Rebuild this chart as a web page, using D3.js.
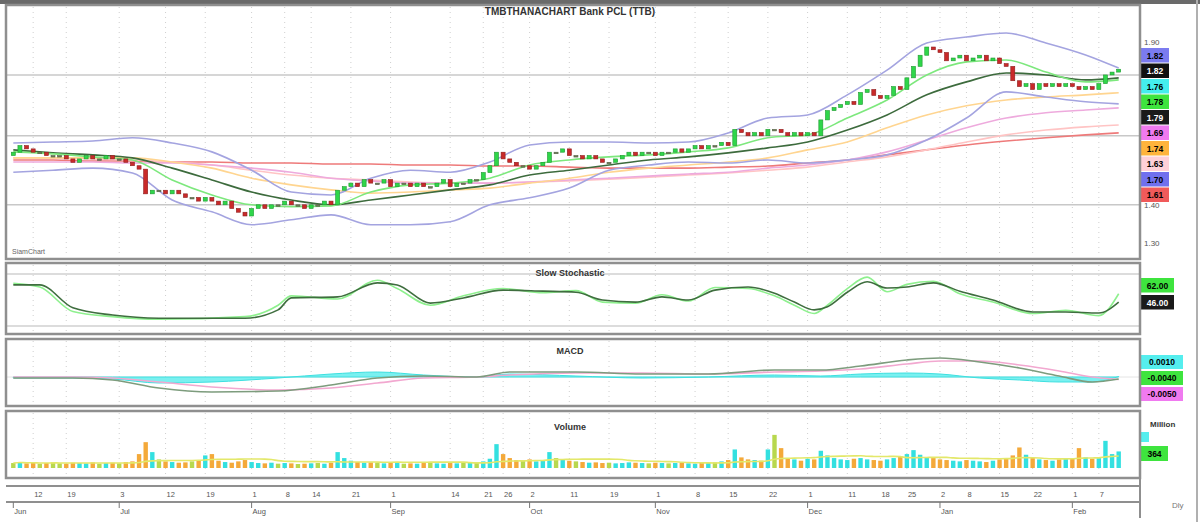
<!DOCTYPE html>
<html>
<head>
<meta charset="utf-8">
<script src="https://cdn.jsdelivr.net/npm/d3@7"></script>
<style>
  body { margin: 0; background: #fff; }
  svg { display: block; font-family: "Liberation Sans", Arial, sans-serif; }
</style>
</head>
<body>
<script>
/*---------- données ----------*/

// cours journaliers (ouverture / clôture)
const closes = [1.55,1.57,1.56,1.55,1.55,1.54,1.54,1.54,1.53,1.52,
  1.53,1.54,1.53,1.53,1.54,1.53,1.53,1.52,1.51,1.50,
  1.43,1.44,1.44,1.43,1.44,1.43,1.42,1.42,1.41,1.42,
  1.41,1.40,1.41,1.39,1.38,1.37,1.39,1.40,1.39,1.40,
  1.40,1.41,1.40,1.40,1.39,1.40,1.40,1.41,1.40,1.44,
  1.45,1.46,1.45,1.47,1.46,1.46,1.47,1.45,1.46,1.46,
  1.45,1.46,1.45,1.45,1.46,1.47,1.45,1.46,1.46,1.47,
  1.47,1.49,1.51,1.55,1.53,1.52,1.51,1.51,1.50,1.51,
  1.52,1.55,1.55,1.56,1.54,1.54,1.53,1.54,1.53,1.52,
  1.52,1.53,1.54,1.55,1.54,1.55,1.55,1.54,1.55,1.55,
  1.56,1.55,1.56,1.57,1.56,1.57,1.57,1.58,1.57,1.62,
  1.61,1.60,1.61,1.60,1.62,1.62,1.61,1.60,1.61,1.60,
  1.61,1.60,1.65,1.68,1.69,1.70,1.71,1.70,1.74,1.75,
  1.73,1.72,1.73,1.76,1.75,1.79,1.83,1.87,1.90,1.89,
  1.88,1.85,1.86,1.87,1.85,1.86,1.87,1.85,1.86,1.84,
  1.83,1.78,1.76,1.77,1.75,1.77,1.76,1.77,1.76,1.77,
  1.76,1.75,1.76,1.75,1.77,1.80,1.81,1.82];
const opens = [1.54,1.55,1.57,1.56,1.55,1.55,1.54,1.54,1.54,1.53,
  1.52,1.53,1.54,1.53,1.53,1.54,1.53,1.53,1.52,1.51,
  1.50,1.43,1.44,1.44,1.43,1.44,1.43,1.42,1.42,1.41,
  1.42,1.41,1.40,1.41,1.39,1.38,1.37,1.39,1.40,1.39,
  1.40,1.40,1.41,1.40,1.40,1.39,1.40,1.40,1.41,1.40,
  1.44,1.45,1.46,1.45,1.47,1.46,1.46,1.47,1.45,1.46,
  1.46,1.45,1.46,1.45,1.45,1.46,1.47,1.45,1.46,1.46,
  1.47,1.47,1.49,1.51,1.55,1.53,1.52,1.51,1.51,1.50,
  1.51,1.52,1.55,1.55,1.56,1.54,1.54,1.53,1.54,1.53,
  1.52,1.52,1.53,1.54,1.55,1.54,1.55,1.55,1.54,1.55,
  1.55,1.56,1.55,1.56,1.57,1.56,1.57,1.57,1.58,1.57,
  1.62,1.61,1.60,1.61,1.60,1.62,1.62,1.61,1.60,1.61,
  1.60,1.61,1.60,1.65,1.68,1.69,1.70,1.71,1.70,1.74,
  1.75,1.73,1.72,1.73,1.76,1.75,1.79,1.83,1.87,1.90,
  1.89,1.88,1.85,1.86,1.87,1.85,1.86,1.87,1.85,1.86,
  1.84,1.83,1.78,1.76,1.77,1.75,1.77,1.76,1.77,1.76,
  1.77,1.76,1.75,1.76,1.75,1.77,1.80,1.81];

// volume (millions)
const volumes = [150,180,140,160,130,150,170,140,130,160,
  150,140,170,130,150,160,140,180,200,420,
  780,480,260,200,180,160,170,200,240,380,
  420,220,180,160,200,240,180,150,140,160,
  130,150,140,120,130,140,150,130,160,480,
  300,220,180,160,170,150,140,160,150,130,
  140,130,150,160,140,130,150,140,170,180,
  160,200,280,720,420,300,240,220,260,200,
  220,480,300,260,220,200,180,160,170,150,
  160,140,150,170,160,150,140,160,150,140,
  150,160,140,130,160,150,170,200,240,560,
  320,260,240,220,560,1000,600,300,260,220,
  280,260,520,380,300,260,240,280,300,260,
  240,220,260,300,360,420,540,400,320,300,
  260,240,220,200,240,220,200,180,220,260,
  300,380,620,400,300,260,240,220,260,280,
  300,600,320,280,300,820,420,500];

// bandes et moyennes mobiles, relevées aux jours de lineIdx
const lineIdx = [0,6,12,18,24,30,36,42,48,54,60,66,72,78,84,90,96,102,108,114,120,126,132,138,144,150,156,162,167];
const bbUpper = [1.578,1.581,1.584,1.594,1.578,1.551,1.497,1.435,1.427,1.474,1.497,1.491,1.521,1.572,1.581,1.581,1.578,1.581,1.609,1.656,1.666,1.732,1.817,1.915,1.937,1.952,1.915,1.871,1.824];
const bbLower = [1.491,1.497,1.503,1.489,1.413,1.381,1.347,1.360,1.373,1.347,1.347,1.355,1.400,1.419,1.446,1.497,1.512,1.521,1.518,1.527,1.518,1.527,1.542,1.587,1.656,1.742,1.725,1.709,1.702];
const maGreen = [1.551,1.545,1.536,1.527,1.469,1.427,1.400,1.395,1.397,1.435,1.455,1.460,1.474,1.512,1.527,1.536,1.542,1.551,1.563,1.594,1.603,1.656,1.715,1.800,1.846,1.853,1.810,1.776,1.783];
const maDark = [1.557,1.548,1.542,1.533,1.503,1.469,1.435,1.413,1.400,1.413,1.427,1.441,1.455,1.483,1.497,1.512,1.527,1.536,1.548,1.563,1.581,1.618,1.666,1.732,1.776,1.807,1.800,1.783,1.790];
const maOrange = [1.533,1.533,1.533,1.533,1.521,1.503,1.474,1.455,1.441,1.432,1.435,1.441,1.446,1.460,1.474,1.491,1.503,1.512,1.521,1.533,1.557,1.581,1.625,1.666,1.696,1.715,1.725,1.732,1.739];
const maPink = [1.521,1.521,1.521,1.518,1.518,1.512,1.503,1.491,1.474,1.466,1.460,1.460,1.460,1.463,1.469,1.474,1.480,1.486,1.491,1.503,1.512,1.527,1.551,1.587,1.625,1.656,1.673,1.682,1.689];
const maLightPink = [1.533,1.533,1.530,1.527,1.521,1.512,1.497,1.483,1.474,1.469,1.463,1.460,1.460,1.463,1.466,1.471,1.477,1.483,1.489,1.497,1.506,1.521,1.536,1.557,1.581,1.603,1.618,1.628,1.634];
const maRed = [1.527,1.527,1.524,1.524,1.521,1.521,1.518,1.518,1.515,1.515,1.512,1.512,1.509,1.509,1.506,1.503,1.503,1.503,1.506,1.509,1.518,1.527,1.542,1.557,1.572,1.584,1.594,1.603,1.609];

// stochastique lente
const stochIdx = [0,4,9,15,22,35,40,42,49,55,58,63,68,74,80,85,89,94,98,102,106,111,115,118,121,123,126,129,132,135,139,143,148,154,159,164,167];
const stochK = [82,75,28,18,13,18,40,58,52,88,72,40,58,72,64,68,46,44,60,48,74,72,58,40,24,40,72,94,66,80,86,62,46,24,30,20,62];
const stochD = [79,79,35,21,15,15,31,54,56,83,79,44,54,69,67,65,50,46,56,50,69,75,63,46,31,37,65,85,73,75,83,67,50,27,27,25,46];

// MACD
const macdIdx = [0,9,15,22,30,40,48,55,62,70,75,85,95,105,115,122,128,135,140,146,152,158,163,167];
const macdLine = [-0.002,-0.002,-0.006,-0.022,-0.030,-0.028,-0.016,-0.002,0.002,0.000,0.010,0.010,0.006,0.006,0.014,0.014,0.022,0.034,0.038,0.030,0.018,0.002,-0.010,-0.004];
const signalLine = [0.000,0.000,-0.002,-0.010,-0.020,-0.026,-0.022,-0.012,-0.002,0.000,0.004,0.008,0.008,0.006,0.010,0.012,0.016,0.026,0.032,0.032,0.024,0.012,0.000,-0.005];

// axe des dates
const dayTickIdx = [3,8,16,23,29,36,41,45,51,57,66,71,74,78,84,90,97,103,108,114,120,126,131,135,140,144,149,154,160,164];
const dayTickLabels = ["12","19","3","12","19","1","8","14","21","1","14","21","26","2","11","19","1","8","15","22","1","11","18","25","2","8","15","22","1","7"];
const monthIdx = [0,16,36,57,78,97,120,140,160];
const monthLabels = ["Jun","Jul","Aug","Sep","Oct","Nov","Dec","Jan","Feb"];
const priceTicks = [1.3,1.4,1.9];

/*---------- mise en page ----------*/
var width = 1200, height = 522;
var left = 6, right = 1140;
var pMain = { top: 5, bottom: 259 };
var pStoch = { top: 263, bottom: 334 };
var pMacd = { top: 339, bottom: 406 };
var pVol = { top: 411, bottom: 478 };

var svg = d3.select("body").append("svg")
  .attr("width", width)
  .attr("height", height);

svg.append("rect").attr("width", width).attr("height", height).attr("fill", "#fff");
svg.append("rect").attr("x", 0).attr("y", 0).attr("width", width).attr("height", 4).attr("fill", "#6a6a6a");

var xscale = d3.scaleLinear().domain([-0.5, closes.length - 0.5]).range([10, 1122]);
var yscale = d3.scaleLog().domain([1.263, 2.057]).range([258, 6]);
var sscale = d3.scaleLinear().domain([0, 100]).range([326, 274]);
var mscale = d3.scaleLinear().domain([-0.056, 0.06]).range([405, 347]);
var vscale = d3.scaleLinear().domain([0, 1600]).range([468, 415]);

// grilles verticales
[pMain, pStoch, pMacd, pVol].forEach(function (p) {
  svg.append("g").selectAll("line")
    .data(dayTickIdx)
    .enter().append("line")
    .attr("x1", d => xscale(d)).attr("x2", d => xscale(d))
    .attr("y1", p.top + 2).attr("y2", p.bottom - 2)
    .attr("stroke", "#cfcfcf")
    .attr("stroke-dasharray", "1,4");
});

// grilles horizontales du graphe principal
svg.append("g").selectAll("line")
  .data([1.4, 1.6, 1.8])
  .enter().append("line")
  .attr("x1", left).attr("x2", right)
  .attr("y1", d => yscale(d)).attr("y2", d => yscale(d))
  .attr("stroke", "#c8c8c8").attr("stroke-width", 1.5);

svg.append("g").selectAll("line")
  .data([0, 100])
  .enter().append("line")
  .attr("x1", left).attr("x2", right)
  .attr("y1", d => sscale(d)).attr("y2", d => sscale(d))
  .attr("stroke", "#dcdcdc").attr("stroke-width", 2);

svg.append("line")
  .attr("x1", left).attr("x2", right)
  .attr("y1", mscale(0)).attr("y2", mscale(0))
  .attr("stroke", "#e4e4e4");

function pts(idx, vals) {
  return idx.map((i, k) => ({ i: i, v: vals[k] }));
}

/*---------- graphe principal ----------*/
var priceLine = d3.line()
  .x(d => xscale(d.i))
  .y(d => yscale(d.v))
  .curve(d3.curveMonotoneX);

var mainSeries = [
  { vals: maRed, color: "#ee7a7a" },
  { vals: maLightPink, color: "#ffc4c4" },
  { vals: maPink, color: "#eeaadd" },
  { vals: maOrange, color: "#ffd590" },
  { vals: maDark, color: "#3d6b3d" },
  { vals: maGreen, color: "#7de87d" },
  { vals: bbUpper, color: "#a4a4e0" },
  { vals: bbLower, color: "#a4a4e0" }
];
mainSeries.forEach(function (s) {
  svg.append("path")
    .datum(pts(lineIdx, s.vals))
    .attr("d", priceLine)
    .attr("fill", "none")
    .attr("stroke", s.color)
    .attr("stroke-width", 1.6);
});

// chandeliers
svg.append("g").selectAll("rect")
  .data(closes)
  .enter().append("rect")
  .attr("x", (d, i) => xscale(i) - 2)
  .attr("width", 4)
  .attr("y", (d, i) => yscale(Math.max(d, opens[i])))
  .attr("height", (d, i) => Math.max(1.5, Math.abs(yscale(d) - yscale(opens[i]))))
  .attr("fill", (d, i) => d > opens[i] ? "#2fd64a" : (d < opens[i] ? "#c92a2a" : "#6d7a55"))
  .attr("stroke", (d, i) => d > opens[i] ? "#1e9a30" : (d < opens[i] ? "#8e1c1c" : "#556045"))
  .attr("stroke-width", 0.6);

svg.append("text")
  .attr("x", 570).attr("y", 15)
  .attr("text-anchor", "middle")
  .attr("font-size", 10).attr("font-weight", "bold").attr("fill", "#333")
  .text("TMBTHANACHART Bank PCL (TTB)");

svg.append("text")
  .attr("x", 12).attr("y", 254)
  .attr("font-size", 7).attr("fill", "#666")
  .text("SiamChart");

// axe des prix (les autres graduations sont cachées par les étiquettes)
svg.append("g").selectAll("text")
  .data(priceTicks)
  .enter().append("text")
  .attr("x", 1144).attr("y", d => d > 1.85 ? yscale(d) - 2 : yscale(d) + 3)
  .attr("font-size", 8).attr("fill", "#555")
  .text(d => d.toFixed(2));

// étiquettes des dernières valeurs
var last = closes.length - 1;
var bbMid = (bbUpper[bbUpper.length - 1] + bbLower[bbLower.length - 1]) / 2;
var tags = [
  { v: bbUpper[bbUpper.length - 1], bg: "#7b7bf0", fg: "#000" },
  { v: closes[last], bg: "#111", fg: "#fff" },
  { v: bbMid, bg: "#44eeee", fg: "#000" },
  { v: maGreen[maGreen.length - 1], bg: "#3ee43e", fg: "#000" },
  { v: maDark[maDark.length - 1], bg: "#1a1a1a", fg: "#fff" },
  { v: maPink[maPink.length - 1], bg: "#f07af0", fg: "#000" },
  { v: maOrange[maOrange.length - 1], bg: "#ffb43c", fg: "#000" },
  { v: maLightPink[maLightPink.length - 1], bg: "#ffd0d8", fg: "#000" },
  { v: bbLower[bbLower.length - 1], bg: "#7070ee", fg: "#000" },
  { v: maRed[maRed.length - 1], bg: "#f05a5a", fg: "#000" }
];
var tg = svg.append("g").selectAll("g").data(tags).enter().append("g")
  .attr("transform", (d, k) => "translate(1141," + (48 + k * 15.5) + ")");
tg.append("rect").attr("width", 28).attr("height", 14.5).attr("fill", d => d.bg);
tg.append("text").attr("x", 14).attr("y", 10.5).attr("text-anchor", "middle")
  .attr("font-size", 8.5).attr("font-weight", "bold").attr("fill", d => d.fg)
  .text(d => d.v.toFixed(2));

/*---------- stochastique ----------*/
var stochLine = d3.line().x(d => xscale(d.i)).y(d => sscale(d.v)).curve(d3.curveMonotoneX);
svg.append("path").datum(pts(stochIdx, stochK)).attr("d", stochLine)
  .attr("fill", "none").attr("stroke", "#8ef08e").attr("stroke-width", 1.6);
svg.append("path").datum(pts(stochIdx, stochD)).attr("d", stochLine)
  .attr("fill", "none").attr("stroke", "#3f6e3f").attr("stroke-width", 1.6);
svg.append("text").attr("x", 570).attr("y", 276).attr("text-anchor", "middle")
  .attr("font-size", 9).attr("font-weight", "bold").attr("fill", "#333").text("Slow Stochastic");

var sTags = [
  { v: stochK[stochK.length - 1], bg: "#3ee43e", fg: "#000", y: 278 },
  { v: stochD[stochD.length - 1], bg: "#1a1a1a", fg: "#fff", y: 295 }
];
var sg = svg.append("g").selectAll("g").data(sTags).enter().append("g")
  .attr("transform", d => "translate(1141," + d.y + ")");
sg.append("rect").attr("width", 33).attr("height", 14.5).attr("fill", d => d.bg);
sg.append("text").attr("x", 16.5).attr("y", 10.5).attr("text-anchor", "middle")
  .attr("font-size", 8.5).attr("font-weight", "bold").attr("fill", d => d.fg)
  .text(d => d.v.toFixed(2));

/*---------- MACD ----------*/
var hist = macdIdx.map((i, k) => ({ i: i, v: macdLine[k] - signalLine[k] }));
svg.append("path").datum(hist)
  .attr("d", d3.area().x(d => xscale(d.i)).y0(mscale(0)).y1(d => mscale(d.v)).curve(d3.curveMonotoneX))
  .attr("fill", "#7af0f0").attr("stroke", "#3ee0e0").attr("stroke-width", 1);
var macdGen = d3.line().x(d => xscale(d.i)).y(d => mscale(d.v)).curve(d3.curveMonotoneX);
svg.append("path").datum(pts(macdIdx, signalLine)).attr("d", macdGen)
  .attr("fill", "none").attr("stroke", "#f2a8d0").attr("stroke-width", 1.6);
svg.append("path").datum(pts(macdIdx, macdLine)).attr("d", macdGen)
  .attr("fill", "none").attr("stroke", "#7d9c7d").attr("stroke-width", 1.6);
svg.append("text").attr("x", 570).attr("y", 354).attr("text-anchor", "middle")
  .attr("font-size", 9).attr("font-weight", "bold").attr("fill", "#333").text("MACD");

var mTags = [
  { v: hist[hist.length - 1].v, bg: "#55eeee", y: 355 },
  { v: macdLine[macdLine.length - 1], bg: "#3ee43e", y: 371 },
  { v: signalLine[signalLine.length - 1], bg: "#f07af0", y: 387 }
];
var mg = svg.append("g").selectAll("g").data(mTags).enter().append("g")
  .attr("transform", d => "translate(1141," + d.y + ")");
mg.append("rect").attr("width", 42).attr("height", 14).attr("fill", d => d.bg);
mg.append("text").attr("x", 21).attr("y", 10).attr("text-anchor", "middle")
  .attr("font-size", 8.5).attr("font-weight", "bold").attr("fill", "#000")
  .text(d => d.v.toFixed(4));

/*---------- volume ----------*/
svg.append("g").selectAll("rect")
  .data(volumes)
  .enter().append("rect")
  .attr("x", (d, i) => xscale(i) - 2.2)
  .attr("width", 4.4)
  .attr("y", d => vscale(d))
  .attr("height", d => vscale(0) - vscale(d))
  .attr("fill", (d, i) => {
    if (i == 0 || closes[i] == closes[i - 1]) return "#b8d84e";
    return closes[i] > closes[i - 1] ? "#33e0e0" : "#f4a93a";
  });

var volMA = volumes.map((d, i) => ({ i: i, v: d3.mean(volumes.slice(Math.max(0, i - 19), i + 1)) }));
svg.append("path").datum(volMA)
  .attr("d", d3.line().x(d => xscale(d.i)).y(d => vscale(d.v)).curve(d3.curveMonotoneX))
  .attr("fill", "none").attr("stroke", "#e3e86a").attr("stroke-width", 1.6);
svg.append("text").attr("x", 570).attr("y", 430).attr("text-anchor", "middle")
  .attr("font-size", 9).attr("font-weight", "bold").attr("fill", "#333").text("Volume");
svg.append("text").attr("x", 1150).attr("y", 427)
  .attr("font-size", 8).attr("font-weight", "bold").attr("fill", "#333").text("Million");
svg.append("rect").attr("x", 1141).attr("y", 432).attr("width", 8).attr("height", 10).attr("fill", "#55eeee");
svg.append("rect").attr("x", 1141).attr("y", 446).attr("width", 27).attr("height", 15).attr("fill", "#3ee43e");
svg.append("text").attr("x", 1154.5).attr("y", 457).attr("text-anchor", "middle")
  .attr("font-size", 8.5).attr("font-weight", "bold").attr("fill", "#000")
  .text(Math.round(volMA[volMA.length - 1].v));

/*---------- cadres ----------*/
[pMain, pStoch, pMacd, pVol].forEach(function (p) {
  svg.append("rect")
    .attr("x", left).attr("y", p.top)
    .attr("width", right - left).attr("height", p.bottom - p.top)
    .attr("fill", "none").attr("stroke", "#8f8f8f").attr("stroke-width", 2.5);
});
svg.append("line").attr("x1", 1197).attr("x2", 1197).attr("y1", 0).attr("y2", height)
  .attr("stroke", "#b0b0b0").attr("stroke-width", 2);

/*---------- axe des dates ----------*/
svg.append("line").attr("x1", left).attr("x2", right).attr("y1", 486).attr("y2", 486)
  .attr("stroke", "#8f8f8f").attr("stroke-width", 2);
svg.append("line").attr("x1", left).attr("x2", right).attr("y1", 502).attr("y2", 502)
  .attr("stroke", "#8f8f8f").attr("stroke-width", 2);
svg.append("line").attr("x1", right).attr("x2", right).attr("y1", 478).attr("y2", 518)
  .attr("stroke", "#8f8f8f").attr("stroke-width", 2);

svg.append("g").selectAll("text")
  .data(dayTickIdx)
  .enter().append("text")
  .attr("x", d => xscale(d) + 1)
  .attr("y", 497)
  .attr("font-size", 7.5).attr("fill", "#555")
  .text((d, k) => dayTickLabels[k]);

svg.append("g").selectAll("line")
  .data(monthIdx)
  .enter().append("line")
  .attr("x1", d => xscale(d)).attr("x2", d => xscale(d))
  .attr("y1", 502).attr("y2", 508)
  .attr("stroke", "#777");
svg.append("g").selectAll("text")
  .data(monthIdx)
  .enter().append("text")
  .attr("x", d => xscale(d) + 1)
  .attr("y", 514)
  .attr("font-size", 7.5).attr("fill", "#555")
  .text((d, k) => monthLabels[k]);

svg.append("text").attr("x", 1172).attr("y", 508)
  .attr("font-size", 8).attr("fill", "#777").text("Dly");
</script>
</body>
</html>
